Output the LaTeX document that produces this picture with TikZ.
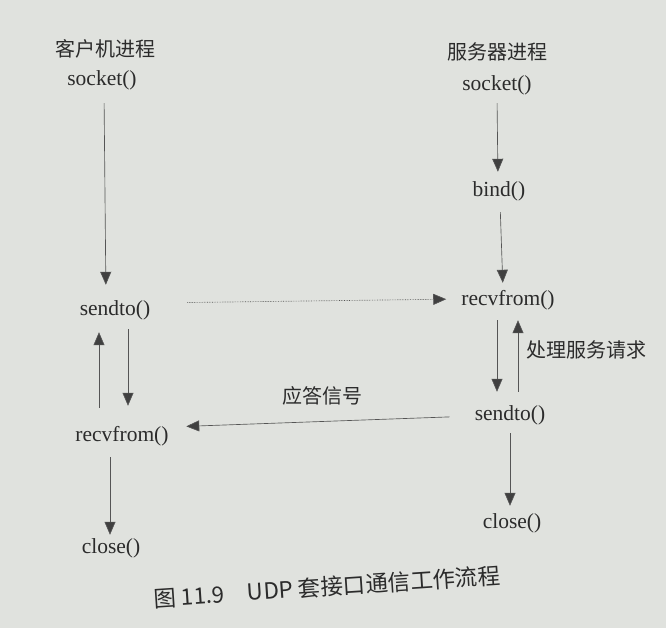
\documentclass[tikz,border=0pt]{standalone}
\usepackage{fontspec}
\setmainfont{Liberation Serif}
\newfontfamily\cjk{Noto Sans CJK SC}
\usetikzlibrary{arrows.meta}
\definecolor{paper}{HTML}{E0E2DE}
\definecolor{ink}{HTML}{2B2B2B}
\definecolor{lineink}{HTML}{555555}
\tikzset{
  fn/.style={inner sep=0pt, text=ink, text height=15pt, text depth=5pt,
    font=\fontsize{21.5}{24}\selectfont},
  cjklabel/.style={inner sep=0pt, text=ink, font=\cjk\fontsize{20}{23}\selectfont},
  arr/.style={draw=lineink, line width=0.65pt,
    -{Triangle[width=11pt,length=13pt,fill=ink!90]}},
  dotarr/.style={arr, densely dotted},
}
\begin{document}
\begin{tikzpicture}[x=1pt,y=-1pt]
\fill[paper] (0,0) rectangle (666,628);
\useasboundingbox (0,0) rectangle (666,628);

% client side
\node[cjklabel] (lhead) at (105,49) {客户机进程};
\node[fn] (lsock) at (102,81) {socket()};
\node[fn] (lsend) at (115,310) {sendto()};
\node[fn] (lrecv) at (122,436) {recvfrom()};
\node[fn] (lclose) at (111,548) {close()};

% server side
\node[cjklabel] (rhead) at (497,52) {服务器进程};
\node[fn] (rsock) at (497,86) {socket()};
\node[fn] (rbind) at (499,192) {bind()};
\node[fn] (rrecv) at (508,300) {recvfrom()};
\node[cjklabel] (rproc) at (586,350) {处理服务请求};
\node[fn] (rsend) at (510,415) {sendto()};
\node[fn] (rclose) at (512,523) {close()};

\node[cjklabel] (ans) at (322,396) {应答信号};

% caption
\node[inner sep=0pt, text=ink, font=\cjk\fontsize{22.5}{25}\selectfont, rotate=3.8]
  (cap) at (327,587) {图 11.9\quad UDP 套接口通信工作流程};

% client arrows
\draw[arr, shorten <=12pt, shorten >=15pt] ([xshift=2pt]lsock.south) -- ([xshift=-9pt]lsend.north);
\draw[arr, shorten <=18pt, shorten >=12pt] ([xshift=-23pt]lrecv.north) -- ([xshift=-16pt]lsend.south);
\draw[arr, shorten <=9pt, shorten >=20pt] ([xshift=13pt]lsend.south) -- ([xshift=6pt]lrecv.north);
\draw[arr, shorten <=11pt, shorten >=3pt] ([xshift=-12pt]lrecv.south) -- ([xshift=-1pt]lclose.north);

% request
\draw[dotarr, shorten <=37pt, shorten >=15pt] ([yshift=7pt]lsend.east) -- ([yshift=1pt]rrecv.west);

% server arrows
\draw[arr, shorten <=7pt, shorten >=10pt] (rsock.south) -- ([xshift=-1pt]rbind.north);
\draw[arr, shorten <=10pt, shorten >=7pt] ([xshift=1pt]rbind.south) -- ([xshift=-5pt]rrecv.north);
\draw[arr, shorten <=10pt, shorten >=13pt] ([xshift=-11pt]rrecv.south) -- ([xshift=-13pt]rsend.north);
\draw[arr, shorten <=13pt, shorten >=10pt] ([xshift=8pt]rsend.north) -- ([xshift=10pt]rrecv.south);
\draw[arr, shorten <=8pt, shorten >=7pt] (rsend.south) -- ([xshift=-2pt]rclose.north);

% reply
\draw[arr, shorten <=25pt, shorten >=17.5pt] ([yshift=-1pt]rsend.west) -- ([yshift=9pt]lrecv.east);
\end{tikzpicture}
\end{document}
